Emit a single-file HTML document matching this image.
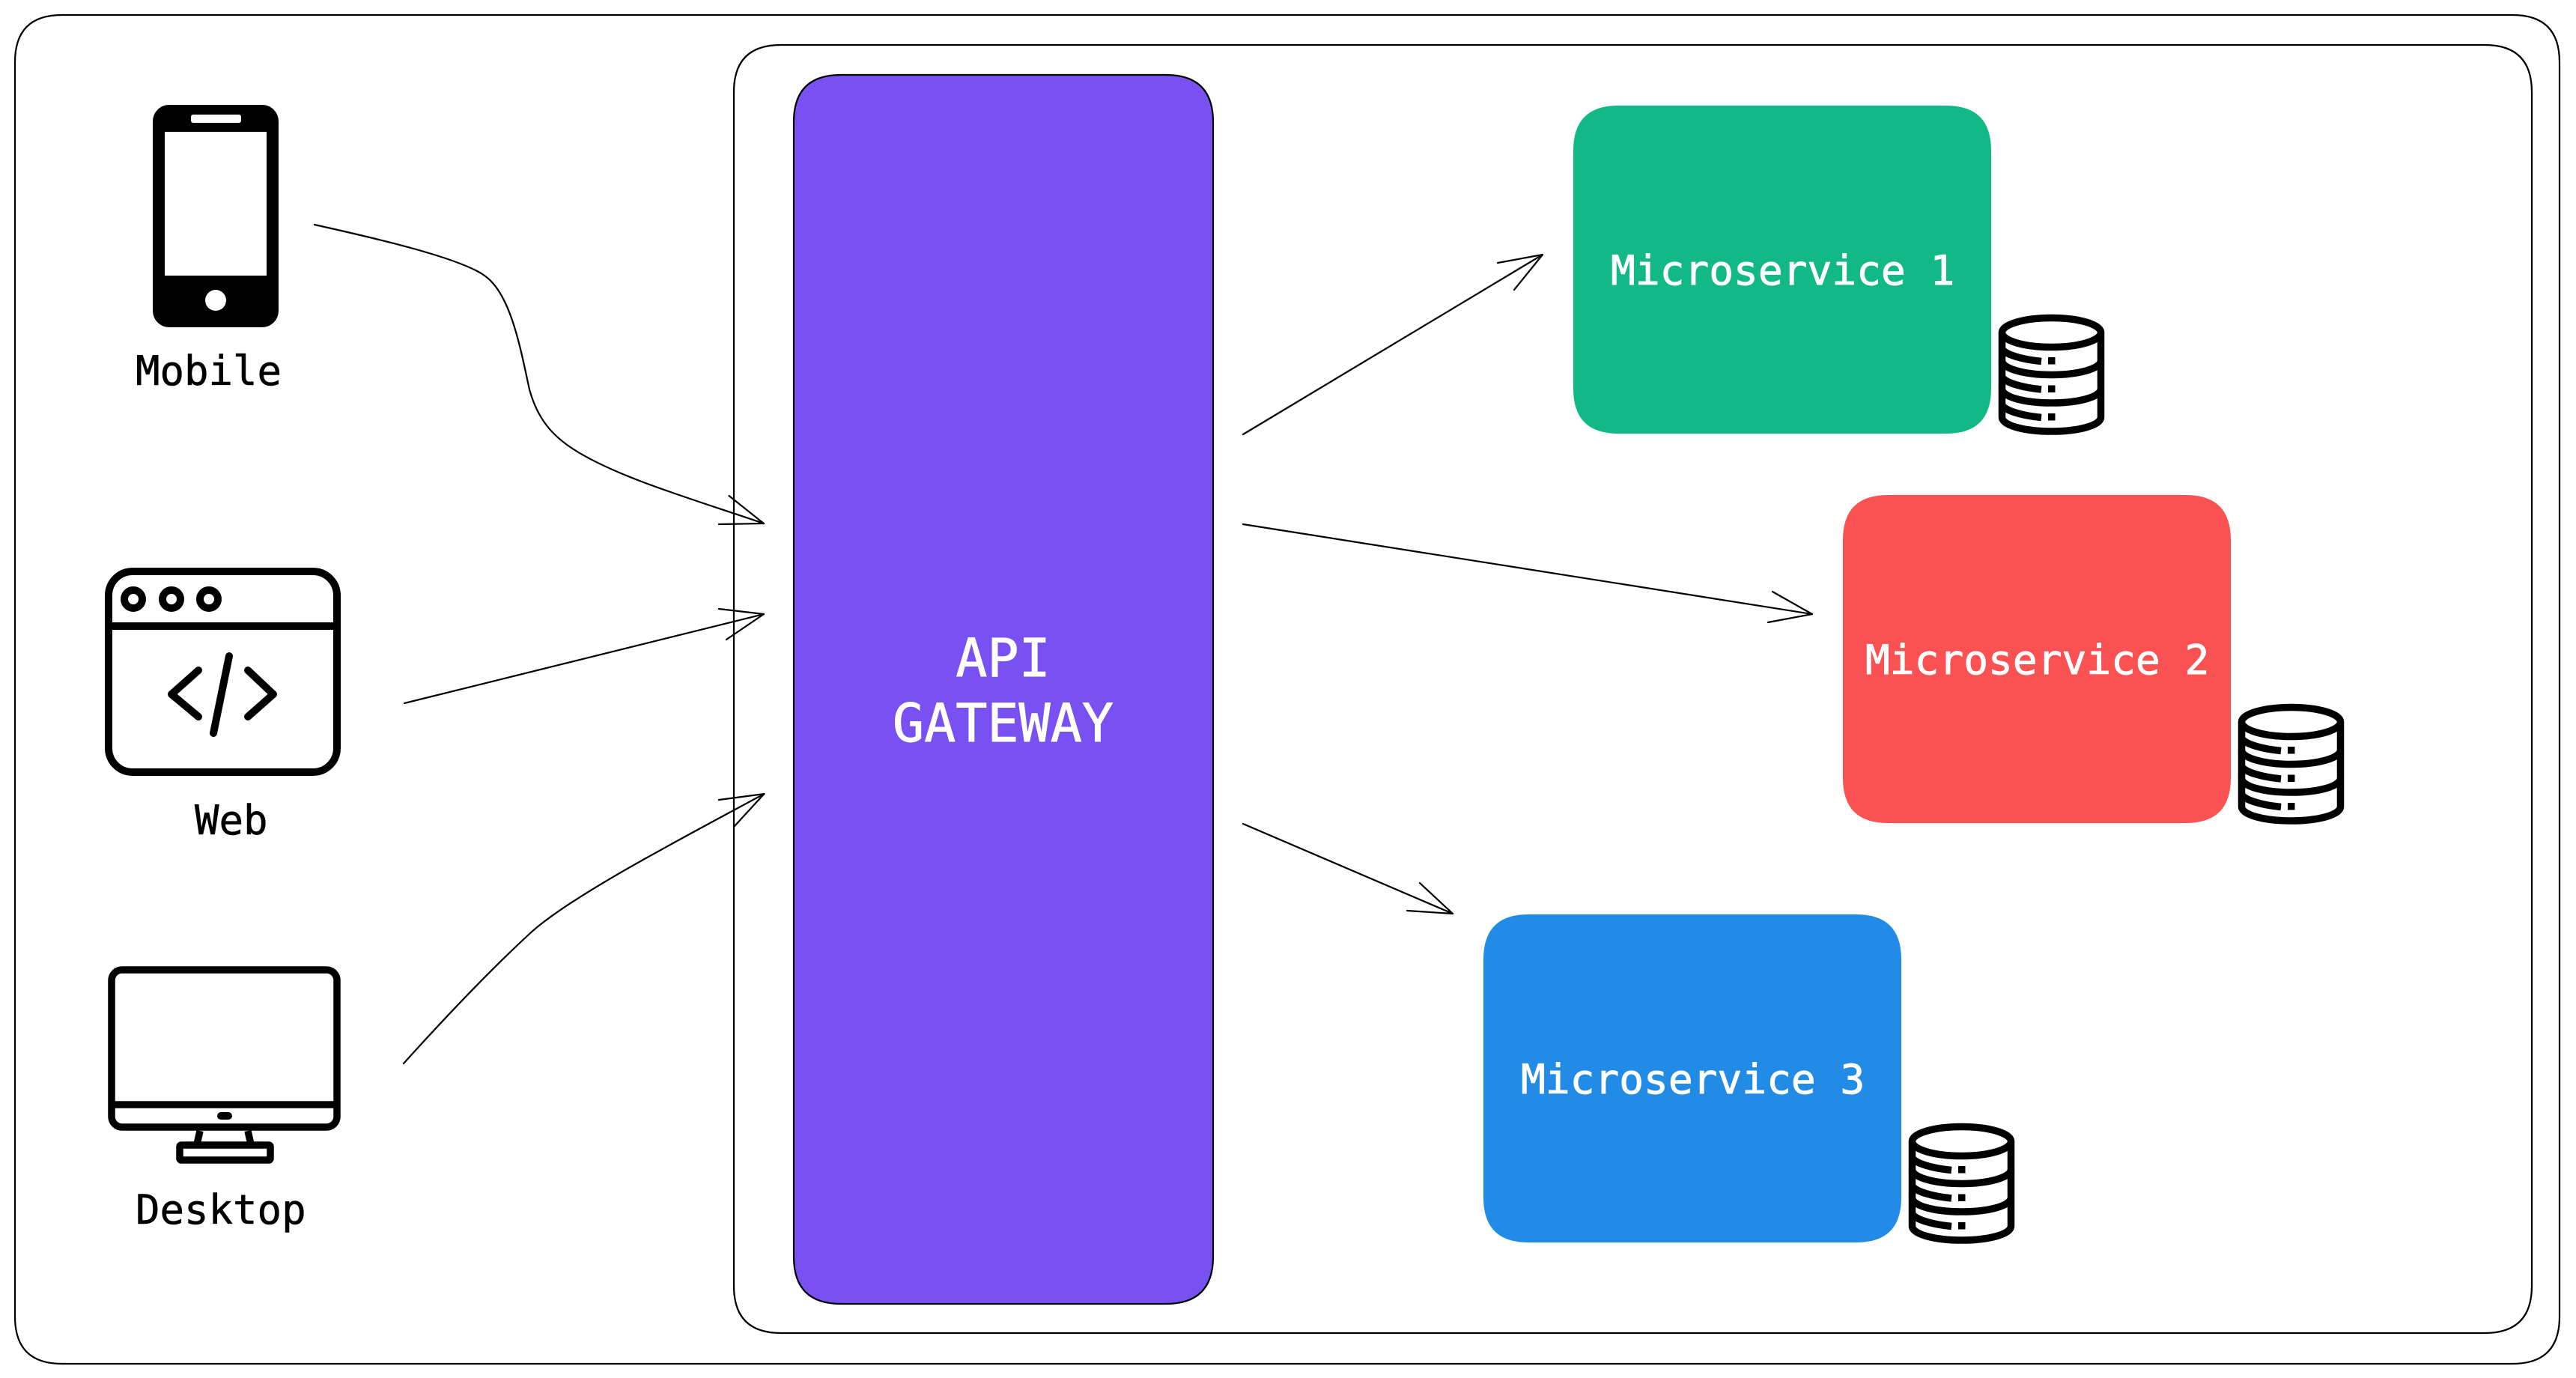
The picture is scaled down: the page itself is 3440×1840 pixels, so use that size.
<!DOCTYPE html>
<html><head><meta charset="utf-8"><style>
html,body{margin:0;padding:0;background:#fff;width:3440px;height:1840px;overflow:hidden}
svg{display:block}
text{font-family:"DejaVu Sans Mono","Liberation Mono",monospace;stroke-width:0.9}
.w{fill:#fff;stroke:#fff}
.k{fill:#000;stroke:#000;stroke-width:0.6}
.a{fill:none;stroke:#000;stroke-width:2.2;stroke-linecap:round;stroke-linejoin:round}
.i{fill:none;stroke:#000;stroke-linecap:round;stroke-linejoin:round}
.b{fill:#fff;stroke:#000;stroke-width:2.2}
</style></head><body>
<svg width="3440" height="1840" viewBox="0 0 3440 1840" xmlns="http://www.w3.org/2000/svg">
<defs>
<g id="db">
<g fill="none" stroke="#000" stroke-width="9.5">
<ellipse cx="70.5" cy="24" rx="66" ry="19.5"/>
<path d="M4.5 24V137C4.5 148 34 156 70.5 156S136.5 148 136.5 137V24"/>
<path d="M4.5 61.5C4.5 72 34 80.5 70.5 80.5S136.5 72 136.5 61.5"/>
<path d="M4.5 99C4.5 110 34 118 70.5 118S136.5 110 136.5 99"/>
<path d="M4.5 46C10 54 32 60 57 62.5"/>
<path d="M4.5 83.5C10 91.5 32 97.5 57 100"/>
<path d="M4.5 121C10 129 32 135 57 137.5"/>
</g>
<rect x="66" y="57" width="9.5" height="9.5"/>
<rect x="66" y="94.5" width="9.5" height="9.5"/>
<rect x="66" y="132" width="9.5" height="9.5"/>
</g>
</defs>
<rect width="3440" height="1840" fill="#fff"/>
<path class="b" d="M83 20H3355Q3418 20 3418 83V1758Q3418 1821 3355 1821H83Q20 1821 20 1758V83Q20 20 83 20Z"/>
<path class="b" d="M1043 60H3318Q3381 60 3381 123V1717Q3381 1780 3318 1780H1043Q980 1780 980 1717V123Q980 60 1043 60Z"/>
<path class="b" style="fill:#7950f2" d="M1123 100H1557Q1620 100 1620 163V1678Q1620 1741 1557 1741H1123Q1060 1741 1060 1678V163Q1060 100 1123 100Z"/>
<path fill="#12b886" d="M2161 141H2599Q2659 141 2659 201V519Q2659 579 2599 579H2161Q2101 579 2101 519V201Q2101 141 2161 141Z"/>
<path fill="#fa5252" d="M2521 661H2919Q2979 661 2979 721V1039Q2979 1099 2919 1099H2521Q2461 1099 2461 1039V721Q2461 661 2521 661Z"/>
<path fill="#228be6" d="M2041 1221H2479Q2539 1221 2539 1281V1599Q2539 1659 2479 1659H2041Q1981 1659 1981 1599V1281Q1981 1221 2041 1221Z"/>

<text class="w" x="1339.5" y="903" text-anchor="middle" font-size="70">API</text>
<text class="w" x="1339.5" y="990" text-anchor="middle" font-size="70">GATEWAY</text>
<text class="w" x="2151" y="380" font-size="54.5">Microservice 1</text>
<text class="w" x="2491" y="900" font-size="54.5">Microservice 2</text>
<text class="w" x="2031" y="1460" font-size="54.5">Microservice 3</text>
<text class="k" x="181" y="514" font-size="54">Mobile</text>
<text class="k" x="260" y="1114" font-size="54">Web</text>
<text class="k" x="181" y="1634" font-size="54">Desktop</text>

<!-- mobile icon -->
<rect x="204" y="140" width="168" height="297" rx="22" fill="#000"/>
<rect x="220" y="176" width="136" height="192" fill="#fff"/>
<rect x="255" y="153" width="67" height="11" rx="3" fill="#fff"/>
<ellipse cx="288" cy="401" rx="14" ry="14" fill="#fff"/>

<!-- web icon -->
<g class="i" stroke-width="10">
<rect x="145" y="763" width="305" height="268" rx="32"/>
<path d="M145 836H450" stroke-linecap="butt"/>
<circle cx="178" cy="800" r="12"/><circle cx="229" cy="800" r="12"/><circle cx="279" cy="800" r="12"/>
<path d="M265 895L229 927L265 957"/>
<path d="M331 895L365 927L331 957"/>
<path d="M306 876L285 979"/>
</g>

<!-- desktop icon -->
<g class="i" stroke-width="9.5">
<rect x="149" y="1295" width="301" height="210" rx="14"/>
<path d="M149 1475H450" stroke-linecap="butt"/>
<path d="M267 1510L263 1528M331 1510L335 1528" stroke-linecap="butt"/>
<rect x="240" y="1529" width="121" height="20" rx="2"/>
</g>
<rect x="290" y="1485" width="20" height="10" rx="5"/>

<use href="#db" x="2669" y="420"/>
<use href="#db" x="2989" y="940"/>
<use href="#db" x="2549" y="1500"/>

<!-- connectors -->
<path class="a" d="M420 300C510 320 615 345 647 368C682 392 695 465 707 520C718 560 738 582 766 600C825 638 930 668 1020 699"/>
<path class="a" d="M973.5 662L1020 699L960 700"/>
<path class="a" d="M540 939L1020 820"/>
<path class="a" d="M960 813L1020 820L970 854"/>
<path class="a" d="M539 1420C595 1358 655 1295 707 1247C760 1198 900 1125 1020.5 1060"/>
<path class="a" d="M960 1068L1020.5 1060L981 1103"/>
<path class="a" d="M1660 580L2060 340"/>
<path class="a" d="M2000 351L2060 340L2022 387"/>
<path class="a" d="M1660 700L2420 820"/>
<path class="a" d="M2367 790L2420 820L2361 831"/>
<path class="a" d="M1660 1100L1940 1220"/>
<path class="a" d="M1896 1179L1940 1220L1879 1216"/>
</svg>
</body></html>
